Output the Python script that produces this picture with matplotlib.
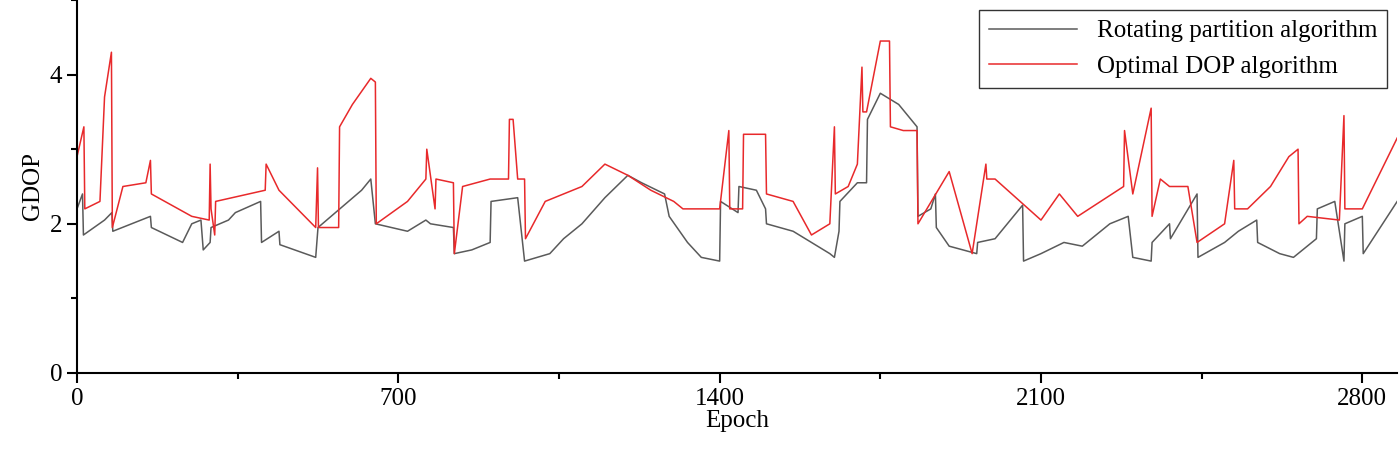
import matplotlib
matplotlib.use('Agg')
import matplotlib.pyplot as plt
from matplotlib.ticker import MultipleLocator

plt.rcParams['font.family'] = ['Liberation Serif', 'DejaVu Serif']

# (epoch, GDOP) breakpoints
gray_pts = [(0, 2.2), (12, 2.4), (14, 1.85), (60, 2.05), (76, 2.15), (78, 1.9), (160, 2.1),
            (162, 1.95), (230, 1.75), (250, 2.0), (270, 2.05), (275, 1.65), (290, 1.75),
            (292, 1.95), (330, 2.05), (345, 2.15), (400, 2.3), (402, 1.75), (440, 1.9),
            (442, 1.72), (520, 1.55), (525, 1.95), (620, 2.45), (640, 2.6), (650, 2.0),
            (720, 1.9), (760, 2.05), (770, 2.0), (820, 1.95), (822, 1.6), (860, 1.65),
            (900, 1.75), (902, 2.3), (960, 2.35), (975, 1.5), (1030, 1.6), (1060, 1.8),
            (1100, 2.0), (1150, 2.35), (1200, 2.65), (1230, 2.55), (1280, 2.4), (1290, 2.1),
            (1330, 1.75), (1360, 1.55), (1400, 1.5), (1402, 2.3), (1440, 2.15), (1442, 2.5),
            (1480, 2.45), (1500, 2.2), (1502, 2.0), (1560, 1.9), (1600, 1.75), (1640, 1.6),
            (1650, 1.55), (1660, 1.9), (1662, 2.3), (1700, 2.55), (1720, 2.55), (1722, 3.4),
            (1750, 3.75), (1790, 3.6), (1830, 3.3), (1832, 2.1), (1860, 2.2), (1870, 2.4),
            (1872, 1.95), (1900, 1.7), (1960, 1.6), (1962, 1.75), (2000, 1.8), (2040, 2.1),
            (2060, 2.25), (2062, 1.5), (2100, 1.6), (2150, 1.75), (2190, 1.7), (2220, 1.85),
            (2250, 2.0), (2290, 2.1), (2300, 1.55), (2340, 1.5), (2342, 1.75), (2380, 2.0),
            (2382, 1.8), (2440, 2.4), (2442, 1.55), (2500, 1.75), (2530, 1.9), (2570, 2.05),
            (2572, 1.75), (2620, 1.6), (2650, 1.55), (2700, 1.8), (2702, 2.2), (2740, 2.3),
            (2760, 1.5), (2762, 2.0), (2800, 2.1), (2802, 1.6), (2876, 2.3)]

red_pts = [(0, 2.9), (15, 3.3), (17, 2.2), (50, 2.3), (60, 3.7), (75, 4.3), (77, 1.95),
           (100, 2.5), (150, 2.55), (160, 2.85), (162, 2.4), (250, 2.1), (288, 2.05),
           (290, 2.8), (292, 2.2), (300, 1.85), (302, 2.3), (410, 2.45), (412, 2.8),
           (440, 2.45), (520, 1.95), (524, 2.75), (526, 1.95), (570, 1.95), (572, 3.3),
           (600, 3.6), (640, 3.95), (650, 3.9), (652, 2.0), (720, 2.3), (760, 2.6),
           (762, 3.0), (780, 2.2), (782, 2.6), (820, 2.55), (822, 1.6), (840, 2.5),
           (900, 2.6), (940, 2.6), (942, 3.4), (950, 3.4), (960, 2.6), (975, 2.6),
           (977, 1.8), (1020, 2.3), (1100, 2.5), (1150, 2.8), (1200, 2.65), (1250, 2.45),
           (1300, 2.3), (1320, 2.2), (1400, 2.2), (1420, 3.25), (1422, 2.2), (1450, 2.2),
           (1452, 3.2), (1500, 3.2), (1502, 2.4), (1560, 2.3), (1600, 1.85), (1640, 2.0),
           (1650, 3.3), (1652, 2.4), (1680, 2.5), (1700, 2.8), (1710, 4.1), (1712, 3.5),
           (1720, 3.5), (1750, 4.45), (1770, 4.45), (1772, 3.3), (1800, 3.25), (1830, 3.25),
           (1832, 2.0), (1900, 2.7), (1950, 1.6), (1980, 2.8), (1982, 2.6), (2000, 2.6),
           (2100, 2.05), (2140, 2.4), (2180, 2.1), (2280, 2.5), (2282, 3.25), (2300, 2.4),
           (2340, 3.55), (2342, 2.1), (2360, 2.6), (2380, 2.5), (2420, 2.5), (2440, 1.75),
           (2500, 2.0), (2520, 2.85), (2522, 2.2), (2550, 2.2), (2600, 2.5), (2640, 2.9),
           (2660, 3.0), (2662, 2.0), (2680, 2.1), (2750, 2.05), (2760, 3.45), (2762, 2.2),
           (2800, 2.2), (2876, 3.15)]

gray_x = [p[0] for p in gray_pts]
gray_y = [p[1] for p in gray_pts]
red_x = [p[0] for p in red_pts]
red_y = [p[1] for p in red_pts]

fig = plt.figure(figsize=(14, 4.68), dpi=100)
ax = fig.add_axes([0.055, 0.203, 0.943, 0.797])
ax.plot(gray_x, gray_y, color='#5a5a5a', lw=1.1, label='Rotating partition algorithm')
ax.plot(red_x, red_y, color='#e8292b', lw=1.1, label='Optimal DOP algorithm')

ax.set_xlim(0, 2876)
ax.set_ylim(0, 5)
ax.xaxis.set_major_locator(MultipleLocator(700))
ax.xaxis.set_minor_locator(MultipleLocator(350))
ax.yaxis.set_major_locator(MultipleLocator(2))
ax.yaxis.set_minor_locator(MultipleLocator(1))
ax.tick_params(which='major', direction='out', length=7, width=1.5, labelsize=18)
ax.tick_params(which='minor', direction='out', length=4, width=1.5)
ax.spines['top'].set_visible(False)
ax.spines['right'].set_visible(False)
ax.spines['left'].set_linewidth(1.5)
ax.spines['bottom'].set_linewidth(1.5)
ax.set_xlabel('Epoch', fontsize=18, labelpad=0)
ax.set_ylabel('GDOP', fontsize=18, labelpad=4)

leg = ax.legend(loc='upper right', fontsize=18, frameon=True, fancybox=False,
                edgecolor='black', handlelength=3.5, borderaxespad=0.4)
leg.get_frame().set_linewidth(1.0)

fig.savefig('out.png', dpi=100)
